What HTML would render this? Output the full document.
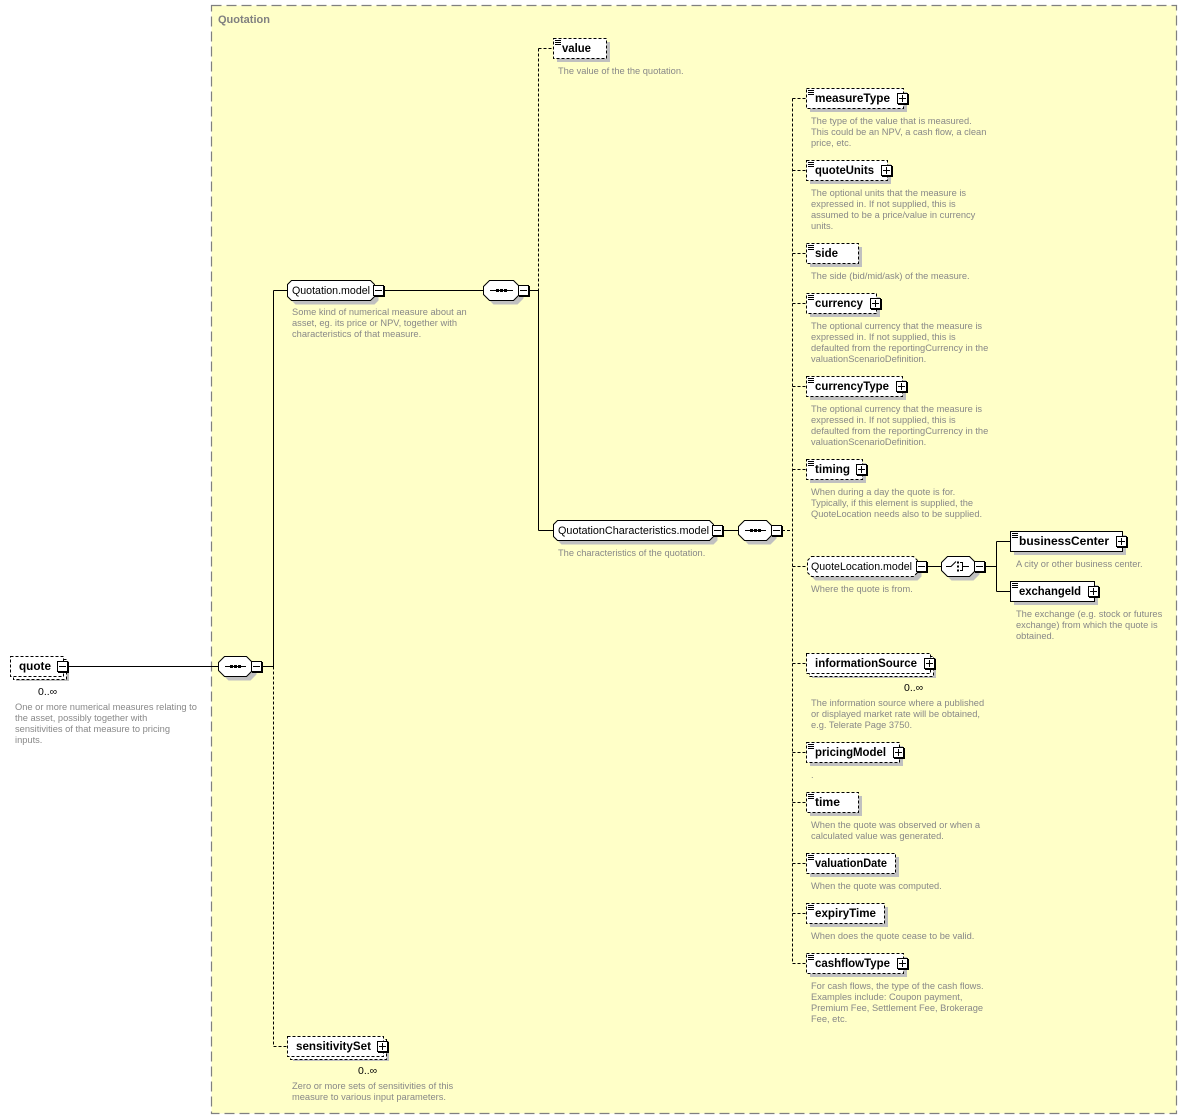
<!DOCTYPE html>
<html><head><meta charset="utf-8"><style>
html,body{margin:0;padding:0;background:#fff;}
svg{display:block;}
.el{font:bold 11.5px "Liberation Sans",sans-serif;fill:#000;}
.md{font:11px "Liberation Sans",sans-serif;fill:#000;}
.d{font:9.3px "Liberation Sans",sans-serif;fill:#888;}
.o{font:10.5px "Liberation Sans",sans-serif;fill:#000;}
.t{font:bold 11px "Liberation Sans",sans-serif;fill:#808080;}
.eb{fill:#fff;stroke:#000;stroke-dasharray:3 2;}
.es{fill:#fff;stroke:#000;}
.sh{fill:#c0c0c0;}
.pb{fill:#fff;stroke:#000;}
.ln{fill:none;stroke:#000;}
.dl{fill:none;stroke:#000;stroke-dasharray:3 2;}
.ic{stroke:#000;fill:none;}
</style></head><body>
<svg width="1187" height="1119" viewBox="0 0 1187 1119" xmlns="http://www.w3.org/2000/svg">
<rect x="211.5" y="5.5" width="965" height="1108" fill="#ffffc8" stroke="#808080" stroke-width="1.2" stroke-dasharray="10 5"/>
<text x="218" y="23" class="t">Quotation</text>

<!-- connectors solid -->
<path class="ln" d="M68 666.5H218.5M262 666.5H273.5M273.5 290.5V666.5M273.5 290.5H287.5M385 290.5H483.5M529 290.5H538.5M538.5 290.5V530.5M538.5 530.5H553.5M723 530.5H738.5M927 566.5H941.5M985 566.5H996.5M996.5 541.5V591.5M996.5 541.5H1010.5M996.5 591.5H1010.5"/>
<!-- connectors dashed -->
<path class="dl" d="M273.5 666.5V1046.5H287.5M538.5 48.5V290.5M538.5 48.5H553.5M782 530.5H792.5M792.5 98.5V963.5M792.5 98.5H806.5M792.5 170.5H806.5M792.5 253.5H806.5M792.5 303.5H806.5M792.5 386.5H806.5M792.5 469.5H806.5M792.5 566.5H807.5M792.5 663.5H806.5M792.5 752.5H806.5M792.5 802.5H806.5M792.5 863.5H806.5M792.5 913.5H806.5M792.5 963.5H806.5"/>

<!-- quote -->
<rect x="16" y="661" width="53" height="20" class="sh"/>
<rect x="13.5" y="659.5" width="53" height="20" class="eb"/>
<rect x="10.5" y="656.5" width="53" height="20" class="eb"/>
<text x="19" y="670" class="el" textLength="32" lengthAdjust="spacingAndGlyphs">quote</text>
<rect x="58" y="662" width="11" height="11" fill="#000"/>
<rect x="57.5" y="661.5" width="10" height="10" class="pb"/>
<path class="ic" d="M59 666.5h7"/>
<text x="38" y="695" class="o">0..∞</text>
<text class="d" x="15" y="710">One or more numerical measures relating to</text>
<text class="d" x="15" y="721">the asset, possibly together with</text>
<text class="d" x="15" y="732">sensitivities of that measure to pricing</text>
<text class="d" x="15" y="743">inputs.</text>

<!-- seq1 -->
<path class="sh" d="M228.5 660.5H250.5L256.5 666.5V674.5L250.5 680.5H228.5L222.5 674.5V666.5Z"/>
<path class="es" d="M224.5 656.5H246.5L252.5 662.5V670.5L246.5 676.5H224.5L218.5 670.5V662.5Z"/>
<path class="ic" d="M225 666.5H246"/>
<rect x="230" y="665" width="3" height="3"/><rect x="234" y="665" width="3" height="3"/><rect x="238" y="665" width="3" height="3"/>
<rect x="252" y="662" width="11" height="11" fill="#000"/>
<rect x="251.5" y="661.5" width="10" height="10" class="pb"/>
<path class="ic" d="M253 666.5h7"/>

<!-- Quotation.model -->
<path class="sh" d="M295.5 284.5H374.5L378.5 288.5V300.5L374.5 304.5H295.5L291.5 300.5V288.5Z"/>
<path class="es" d="M291.5 280.5H370.5L374.5 284.5V296.5L370.5 300.5H291.5L287.5 296.5V284.5Z"/>
<text x="292" y="294" class="md" textLength="78" lengthAdjust="spacingAndGlyphs">Quotation.model</text>
<rect x="374" y="286" width="11" height="11" fill="#000"/>
<rect x="373.5" y="285.5" width="10" height="10" class="pb"/>
<path class="ic" d="M375 290.5h7"/>
<text class="d" x="292" y="315">Some kind of numerical measure about an</text>
<text class="d" x="292" y="326">asset, eg. its price or NPV, together with</text>
<text class="d" x="292" y="337">characteristics of that measure.</text>

<!-- seq2 -->
<path class="sh" d="M493.5 284.5H517.5L523.5 290.5V298.5L517.5 304.5H493.5L487.5 298.5V290.5Z"/>
<path class="es" d="M489.5 280.5H513.5L519.5 286.5V294.5L513.5 300.5H489.5L483.5 294.5V286.5Z"/>
<path class="ic" d="M490 290.5H513"/>
<rect x="496" y="289" width="3" height="3"/><rect x="500" y="289" width="3" height="3"/><rect x="504" y="289" width="3" height="3"/>
<rect x="519" y="286" width="11" height="11" fill="#000"/>
<rect x="518.5" y="285.5" width="10" height="10" class="pb"/>
<path class="ic" d="M520 290.5h7"/>

<!-- value -->
<rect x="557" y="42" width="53" height="20" class="sh"/>
<rect x="553.5" y="38.5" width="53" height="20" class="eb"/>
<path class="ic" d="M555 40.5h6M555 42.5h6M555 44.5h6"/>
<text x="562" y="52" class="el" textLength="29" lengthAdjust="spacingAndGlyphs">value</text>
<text class="d" x="558" y="74">The value of the the quotation.</text>

<!-- QuotationCharacteristics.model -->
<path class="sh" d="M561.5 524.5H713.5L717.5 528.5V540.5L713.5 544.5H561.5L557.5 540.5V528.5Z"/>
<path class="es" d="M557.5 520.5H709.5L713.5 524.5V536.5L709.5 540.5H557.5L553.5 536.5V524.5Z"/>
<text x="558" y="534" class="md" textLength="151" lengthAdjust="spacingAndGlyphs">QuotationCharacteristics.model</text>
<rect x="713" y="526" width="11" height="11" fill="#000"/>
<rect x="712.5" y="525.5" width="10" height="10" class="pb"/>
<path class="ic" d="M714 530.5h7"/>
<text class="d" x="558" y="556">The characteristics of the quotation.</text>

<!-- seq3 -->
<path class="sh" d="M748.5 524.5H770.5L776.5 530.5V538.5L770.5 544.5H748.5L742.5 538.5V530.5Z"/>
<path class="es" d="M744.5 520.5H766.5L772.5 526.5V534.5L766.5 540.5H744.5L738.5 534.5V526.5Z"/>
<path class="ic" d="M745 530.5H766"/>
<rect x="750" y="529" width="3" height="3"/><rect x="754" y="529" width="3" height="3"/><rect x="758" y="529" width="3" height="3"/>
<rect x="772" y="526" width="11" height="11" fill="#000"/>
<rect x="771.5" y="525.5" width="10" height="10" class="pb"/>
<path class="ic" d="M773 530.5h7"/>

<!-- measureType -->
<rect x="810" y="92" width="97" height="20" class="sh"/>
<rect x="806.5" y="88.5" width="97" height="20" class="eb"/>
<path class="ic" d="M808 90.5h6M808 92.5h6M808 94.5h6"/>
<text x="815" y="102" class="el" textLength="75" lengthAdjust="spacingAndGlyphs">measureType</text>
<rect x="898" y="94" width="11" height="11" fill="#000"/>
<rect x="897.5" y="93.5" width="10" height="10" class="pb"/>
<path class="ic" d="M899 98.5h7M902.5 95v7"/>
<text class="d" x="811" y="124">The type of the value that is measured.</text>
<text class="d" x="811" y="135">This could be an NPV, a cash flow, a clean</text>
<text class="d" x="811" y="146">price, etc.</text>

<!-- quoteUnits -->
<rect x="810" y="164" width="81" height="20" class="sh"/>
<rect x="806.5" y="160.5" width="81" height="20" class="eb"/>
<path class="ic" d="M808 162.5h6M808 164.5h6M808 166.5h6"/>
<text x="815" y="174" class="el" textLength="59" lengthAdjust="spacingAndGlyphs">quoteUnits</text>
<rect x="882" y="166" width="11" height="11" fill="#000"/>
<rect x="881.5" y="165.5" width="10" height="10" class="pb"/>
<path class="ic" d="M883 170.5h7M886.5 167v7"/>
<text class="d" x="811" y="196">The optional units that the measure is</text>
<text class="d" x="811" y="207">expressed in. If not supplied, this is</text>
<text class="d" x="811" y="218">assumed to be a price/value in currency</text>
<text class="d" x="811" y="229">units.</text>

<!-- side -->
<rect x="810" y="247" width="52" height="20" class="sh"/>
<rect x="806.5" y="243.5" width="52" height="20" class="eb"/>
<path class="ic" d="M808 245.5h6M808 247.5h6M808 249.5h6"/>
<text x="815" y="257" class="el" textLength="23" lengthAdjust="spacingAndGlyphs">side</text>
<text class="d" x="811" y="279">The side (bid/mid/ask) of the measure.</text>

<!-- currency -->
<rect x="810" y="297" width="70" height="20" class="sh"/>
<rect x="806.5" y="293.5" width="70" height="20" class="eb"/>
<path class="ic" d="M808 295.5h6M808 297.5h6M808 299.5h6"/>
<text x="815" y="307" class="el" textLength="48" lengthAdjust="spacingAndGlyphs">currency</text>
<rect x="871" y="299" width="11" height="11" fill="#000"/>
<rect x="870.5" y="298.5" width="10" height="10" class="pb"/>
<path class="ic" d="M872 303.5h7M875.5 300v7"/>
<text class="d" x="811" y="329">The optional currency that the measure is</text>
<text class="d" x="811" y="340">expressed in. If not supplied, this is</text>
<text class="d" x="811" y="351">defaulted from the reportingCurrency in the</text>
<text class="d" x="811" y="362">valuationScenarioDefinition.</text>

<!-- currencyType -->
<rect x="810" y="380" width="96" height="20" class="sh"/>
<rect x="806.5" y="376.5" width="96" height="20" class="eb"/>
<path class="ic" d="M808 378.5h6M808 380.5h6M808 382.5h6"/>
<text x="815" y="390" class="el" textLength="74" lengthAdjust="spacingAndGlyphs">currencyType</text>
<rect x="897" y="382" width="11" height="11" fill="#000"/>
<rect x="896.5" y="381.5" width="10" height="10" class="pb"/>
<path class="ic" d="M898 386.5h7M901.5 383v7"/>
<text class="d" x="811" y="412">The optional currency that the measure is</text>
<text class="d" x="811" y="423">expressed in. If not supplied, this is</text>
<text class="d" x="811" y="434">defaulted from the reportingCurrency in the</text>
<text class="d" x="811" y="445">valuationScenarioDefinition.</text>

<!-- timing -->
<rect x="810" y="463" width="56" height="20" class="sh"/>
<rect x="806.5" y="459.5" width="56" height="20" class="eb"/>
<path class="ic" d="M808 461.5h6M808 463.5h6M808 465.5h6"/>
<text x="815" y="473" class="el" textLength="35" lengthAdjust="spacingAndGlyphs">timing</text>
<rect x="857" y="465" width="11" height="11" fill="#000"/>
<rect x="856.5" y="464.5" width="10" height="10" class="pb"/>
<path class="ic" d="M858 469.5h7M861.5 466v7"/>
<text class="d" x="811" y="495">When during a day the quote is for.</text>
<text class="d" x="811" y="506">Typically, if this element is supplied, the</text>
<text class="d" x="811" y="517">QuoteLocation needs also to be supplied.</text>

<!-- QuoteLocation.model -->
<path class="sh" d="M815.5 560.5H917.5L921.5 564.5V576.5L917.5 580.5H815.5L811.5 576.5V564.5Z"/>
<path class="eb" d="M811.5 556.5H913.5L917.5 560.5V572.5L913.5 576.5H811.5L807.5 572.5V560.5Z"/>
<text x="811" y="570" class="md" textLength="101" lengthAdjust="spacingAndGlyphs">QuoteLocation.model</text>
<rect x="917" y="562" width="11" height="11" fill="#000"/>
<rect x="916.5" y="561.5" width="10" height="10" class="pb"/>
<path class="ic" d="M918 566.5h7"/>
<text class="d" x="811" y="592">Where the quote is from.</text>

<!-- choice -->
<path class="sh" d="M951.5 560.5H973.5L979.5 566.5V574.5L973.5 580.5H951.5L945.5 574.5V566.5Z"/>
<path class="es" d="M947.5 556.5H969.5L975.5 562.5V570.5L969.5 576.5H947.5L941.5 570.5V562.5Z"/>
<path class="ic" d="M946 566.5H951L956 561.5M960 562.5H962.5V570.5H960M962.5 566.5H969"/>
<rect x="957" y="561.5" width="2" height="2"/><rect x="957" y="565.5" width="2" height="2"/><rect x="957" y="569.5" width="2" height="2"/>
<rect x="975" y="562" width="11" height="11" fill="#000"/>
<rect x="974.5" y="561.5" width="10" height="10" class="pb"/>
<path class="ic" d="M976 566.5h7"/>

<!-- businessCenter -->
<rect x="1014" y="535" width="112" height="20" class="sh"/>
<rect x="1010.5" y="531.5" width="112" height="20" class="es"/>
<path class="ic" d="M1012 533.5h6M1012 535.5h6M1012 537.5h6"/>
<text x="1019" y="545" class="el" textLength="90" lengthAdjust="spacingAndGlyphs">businessCenter</text>
<rect x="1117" y="537" width="11" height="11" fill="#000"/>
<rect x="1116.5" y="536.5" width="10" height="10" class="pb"/>
<path class="ic" d="M1118 541.5h7M1121.5 538v7"/>
<text class="d" x="1016" y="567">A city or other business center.</text>

<!-- exchangeId -->
<rect x="1014" y="585" width="84" height="20" class="sh"/>
<rect x="1010.5" y="581.5" width="84" height="20" class="es"/>
<path class="ic" d="M1012 583.5h6M1012 585.5h6M1012 587.5h6"/>
<text x="1019" y="595" class="el" textLength="62" lengthAdjust="spacingAndGlyphs">exchangeId</text>
<rect x="1089" y="587" width="11" height="11" fill="#000"/>
<rect x="1088.5" y="586.5" width="10" height="10" class="pb"/>
<path class="ic" d="M1090 591.5h7M1093.5 588v7"/>
<text class="d" x="1016" y="617">The exchange (e.g. stock or futures</text>
<text class="d" x="1016" y="628">exchange) from which the quote is</text>
<text class="d" x="1016" y="639">obtained.</text>

<!-- informationSource -->
<rect x="812" y="658" width="124" height="20" class="sh"/>
<rect x="809.5" y="656.5" width="124" height="20" class="eb"/>
<rect x="806.5" y="653.5" width="124" height="20" class="eb"/>
<text x="815" y="667" class="el" textLength="102" lengthAdjust="spacingAndGlyphs">informationSource</text>
<rect x="925" y="659" width="11" height="11" fill="#000"/>
<rect x="924.5" y="658.5" width="10" height="10" class="pb"/>
<path class="ic" d="M926 663.5h7M929.5 660v7"/>
<text x="904" y="691" class="o">0..∞</text>
<text class="d" x="811" y="706">The information source where a published</text>
<text class="d" x="811" y="717">or displayed market rate will be obtained,</text>
<text class="d" x="811" y="728">e.g. Telerate Page 3750.</text>

<!-- pricingModel -->
<rect x="810" y="746" width="93" height="20" class="sh"/>
<rect x="806.5" y="742.5" width="93" height="20" class="eb"/>
<path class="ic" d="M808 744.5h6M808 746.5h6M808 748.5h6"/>
<text x="815" y="756" class="el" textLength="71" lengthAdjust="spacingAndGlyphs">pricingModel</text>
<rect x="894" y="748" width="11" height="11" fill="#000"/>
<rect x="893.5" y="747.5" width="10" height="10" class="pb"/>
<path class="ic" d="M895 752.5h7M898.5 749v7"/>
<text class="d" x="811" y="778">.</text>

<!-- time -->
<rect x="810" y="796" width="52" height="20" class="sh"/>
<rect x="806.5" y="792.5" width="52" height="20" class="eb"/>
<path class="ic" d="M808 794.5h6M808 796.5h6M808 798.5h6"/>
<text x="815" y="806" class="el" textLength="25" lengthAdjust="spacingAndGlyphs">time</text>
<text class="d" x="811" y="828">When the quote was observed or when a</text>
<text class="d" x="811" y="839">calculated value was generated.</text>

<!-- valuationDate -->
<rect x="810" y="857" width="89" height="20" class="sh"/>
<rect x="806.5" y="853.5" width="89" height="20" class="eb"/>
<path class="ic" d="M808 855.5h6M808 857.5h6M808 859.5h6"/>
<text x="815" y="867" class="el" textLength="72" lengthAdjust="spacingAndGlyphs">valuationDate</text>
<text class="d" x="811" y="889">When the quote was computed.</text>

<!-- expiryTime -->
<rect x="810" y="907" width="78" height="20" class="sh"/>
<rect x="806.5" y="903.5" width="78" height="20" class="eb"/>
<path class="ic" d="M808 905.5h6M808 907.5h6M808 909.5h6"/>
<text x="815" y="917" class="el" textLength="61" lengthAdjust="spacingAndGlyphs">expiryTime</text>
<text class="d" x="811" y="939">When does the quote cease to be valid.</text>

<!-- cashflowType -->
<rect x="810" y="957" width="97" height="20" class="sh"/>
<rect x="806.5" y="953.5" width="97" height="20" class="eb"/>
<path class="ic" d="M808 955.5h6M808 957.5h6M808 959.5h6"/>
<text x="815" y="967" class="el" textLength="75" lengthAdjust="spacingAndGlyphs">cashflowType</text>
<rect x="898" y="959" width="11" height="11" fill="#000"/>
<rect x="897.5" y="958.5" width="10" height="10" class="pb"/>
<path class="ic" d="M899 963.5h7M902.5 960v7"/>
<text class="d" x="811" y="989">For cash flows, the type of the cash flows.</text>
<text class="d" x="811" y="1000">Examples include: Coupon payment,</text>
<text class="d" x="811" y="1011">Premium Fee, Settlement Fee, Brokerage</text>
<text class="d" x="811" y="1022">Fee, etc.</text>

<!-- sensitivitySet -->
<rect x="293" y="1041" width="96" height="20" class="sh"/>
<rect x="290.5" y="1039.5" width="96" height="20" class="eb"/>
<rect x="287.5" y="1036.5" width="96" height="20" class="eb"/>
<text x="296" y="1050" class="el" textLength="75" lengthAdjust="spacingAndGlyphs">sensitivitySet</text>
<rect x="378" y="1042" width="11" height="11" fill="#000"/>
<rect x="377.5" y="1041.5" width="10" height="10" class="pb"/>
<path class="ic" d="M379 1046.5h7M382.5 1043v7"/>
<text x="358" y="1074" class="o">0..∞</text>
<text class="d" x="292" y="1089">Zero or more sets of sensitivities of this</text>
<text class="d" x="292" y="1100">measure to various input parameters.</text>
</svg>
</body></html>
